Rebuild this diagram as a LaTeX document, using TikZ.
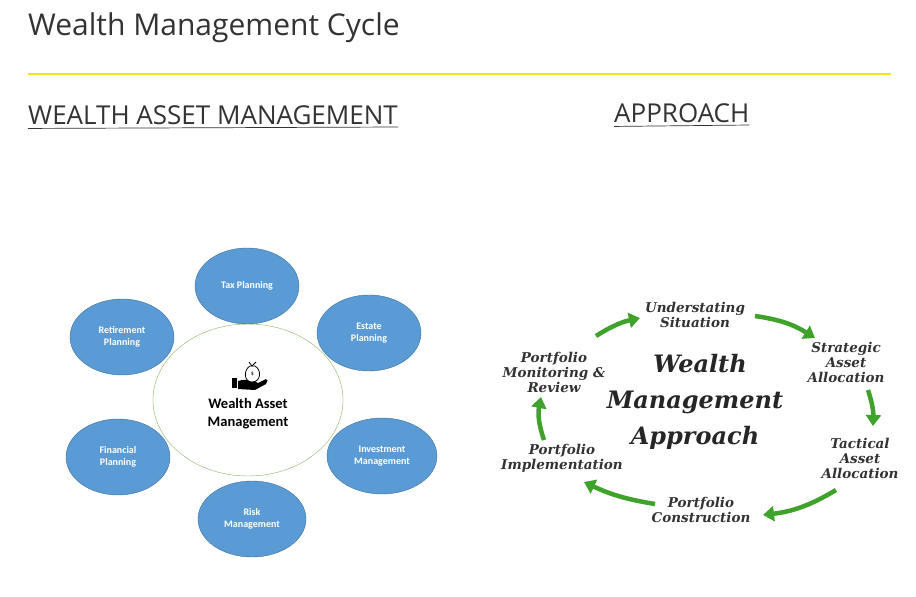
\documentclass[tikz,border=0pt]{standalone}
\usepackage{fontspec}
\setmainfont{DejaVu Serif}
\newfontfamily\headFont{Open Sans}
\newfontfamily\calFont{Carlito}
\usetikzlibrary{positioning, shapes, arrows.meta}

\definecolor{blueFill}{HTML}{5B9BD5}
\definecolor{blueEdge}{HTML}{41719C}
\definecolor{ringGreen}{HTML}{8DB565}
\definecolor{arrowGreen}{HTML}{3FA22A}
\definecolor{lineYellow}{HTML}{F4E21A}
\definecolor{headGrey}{HTML}{333333}

\begin{document}
\begin{tikzpicture}[
    x = 1pt, y = -1pt,
    planNode/.append style = {draw = blueEdge, fill = blueFill, ellipse, minimum width = 104pt, minimum height = 76pt, text = white, font = \calFont\bfseries\fontsize{10}{12}\selectfont, align = center},
    stepNode/.append style = {font = \bfseries\itshape\fontsize{13.5}{15}\selectfont, align = center, text = black!80, inner sep = 0pt},
    bigNode/.append style = {font = \bfseries\itshape\fontsize{24}{24}\selectfont, text = black!85},
    cycArrow/.append style = {-{Triangle[length = 11pt, width = 15pt]}, line width = 4.5pt, arrowGreen},
    headNode/.append style = {font = \headFont\fontsize{26}{28}\selectfont, text = headGrey, anchor = base west, inner sep = 0pt}
    ]
      \useasboundingbox (0,0) rectangle (916,597);

      %% Header
      \node[headNode, font = \headFont\fontsize{30}{32}\selectfont] (title) at (28,35) {Wealth Management Cycle};
      \draw[lineYellow, line width = 1.5pt] (28,74) -- (891,74);
      \node[headNode] (leftHead) at (28,124) {WEALTH ASSET MANAGEMENT};
      \node[headNode] (rightHead) at (614,122) {APPROACH};
      \draw[headGrey, line width = 0.7pt] (leftHead.south west) ++(0,-4pt) -- (leftHead.south east |- 0,127);
      \draw[headGrey, line width = 0.7pt] (rightHead.south west) ++(0,-4pt) -- (rightHead.south east |- 0,125);

      %% Left diagram
      \node[draw = ringGreen, ellipse, minimum width = 190pt, minimum height = 152pt, font = \calFont\bfseries\fontsize{14.5}{18}\selectfont, align = center, text depth = 0pt] (wam) at (248,400) {\\[16pt]Wealth Asset\\Management};
      \node[planNode] (tax) at (247,286) {Tax Planning};
      \node[planNode] (estate) at (369,333) {Estate\\Planning};
      \node[planNode] (retire) at (122,337) {Retirement\\Planning};
      \node[planNode, minimum width = 110pt] (invest) at (382,456) {Investment\\Management};
      \node[planNode] (finance) at (118,457) {Financial\\Planning};
      \node[planNode, minimum width = 108pt] (risk) at (252,519) {Risk\\Management};

      %% Money icon
      \fill[black] (232,378) rectangle (237,388);
      \fill[black] (238,381) .. controls (248,378) and (255,381) .. (258,383) -- (266,379) .. controls (268,379) and (268,382) .. (266,384) -- (255,390) -- (238,389) -- cycle;
      \draw[black, line width = 0.8pt, fill = white] (250,366) .. controls (243,370) and (244,382) .. (252,382) .. controls (261,382) and (262,370) .. (255,366) -- cycle;
      \draw[black, line width = 0.8pt] (249,362) -- (252,366) -- (256,362);
      \node[font = \calFont\fontsize{6}{6}\selectfont, inner sep = 0pt] (dollar) at (252.5,374) {\$};

      %% Right diagram
      \node[stepNode] (understand) at (695,315) {Understating\\Situation};
      \node[stepNode] (strategic) at (846,362) {Strategic\\Asset\\Allocation};
      \node[stepNode] (tactical) at (860,458) {Tactical\\Asset\\Allocation};
      \node[stepNode] (construct) at (701,510) {Portfolio\\Construction};
      \node[stepNode] (implement) at (562,458) {Portfolio\\Implementation};
      \node[stepNode] (monitor) at (554,372) {Portfolio\\Monitoring \&\\Review};

      \node[bigNode] (wealth) at (700,364) {Wealth};
      \node[bigNode] (manage) at (695,402) {Management};
      \node[bigNode] (approach) at (695,438) {Approach};

      %% Arrows
      \draw[cycArrow] (596,336) to[bend left = 10] (640,318);
      \draw[cycArrow] (755,316) to[bend left = 12] (815,338);
      \draw[cycArrow] (868,390) to[bend left = 10] (873,426);
      \draw[cycArrow] (836,490) to[bend left = 12] (763,515);
      \draw[cycArrow] (655,504) to[bend left = 8] (584,482);
      \draw[cycArrow] (544,440) to[bend left = 15] (541,397);
\end{tikzpicture}
\end{document}
